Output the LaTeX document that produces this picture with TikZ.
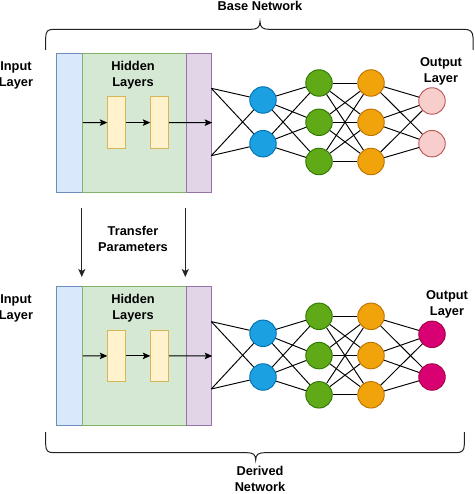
\documentclass[tikz,border=0pt]{standalone}
\usepackage{fontspec}
\setmainfont{Liberation Sans}
\usetikzlibrary{arrows.meta}
\definecolor{inF}{HTML}{DAE8FC}\definecolor{inD}{HTML}{6C8EBF}
\definecolor{hiF}{HTML}{D5E8D4}\definecolor{hiD}{HTML}{82B366}
\definecolor{puF}{HTML}{E1D5E7}\definecolor{puD}{HTML}{9673A6}
\definecolor{yeF}{HTML}{FFF2CC}\definecolor{yeD}{HTML}{D6B656}
\definecolor{blF}{HTML}{1BA1E2}\definecolor{blD}{HTML}{006EAF}
\definecolor{grF}{HTML}{60A917}\definecolor{grD}{HTML}{2D7600}
\definecolor{orF}{HTML}{F0A30A}\definecolor{orD}{HTML}{BD7000}
\definecolor{pkF}{HTML}{F8CECC}\definecolor{pkD}{HTML}{B85450}
\definecolor{mgF}{HTML}{D80073}\definecolor{mgD}{HTML}{A50040}
\definecolor{ink}{HTML}{222222}
\tikzset{
  box/.style={draw=#1D, fill=#1F, line width=0.9pt, anchor=north west, inner sep=0pt, minimum height=139pt},
  ybox/.style={draw=yeD, fill=yeF, line width=0.9pt, anchor=north west, inner sep=0pt, minimum width=18pt, minimum height=51.7pt},
  neuron/.style={circle, draw=#1D, fill=#1F, line width=0.9pt, inner sep=0pt, minimum size=26.5pt},
  lbl/.style={font=\bfseries\fontsize{12.8}{16}\selectfont, align=center, text=black, inner sep=0pt},
  conn/.style={draw=black, line width=0.95pt},
  arr/.style={draw=black, line width=0.95pt, -{Stealth[length=7.5pt,width=6.5pt,inset=1.5pt]}},
  tarr/.style={draw=ink, line width=1pt, -{Stealth[length=8pt,width=7pt,inset=2pt]}},
  bracestyle/.style={draw=ink, line width=1pt}
}
\begin{document}
\begin{tikzpicture}[x=1pt,y=-1pt]
\useasboundingbox[fill=white] (0,0) rectangle (474,494);

\foreach \p/\dy/\oc/\ox in {A/0/pk/441, B/233.3/mg/447}{
  \begin{scope}[yshift=-\dy pt]
  \node[box=in, minimum width=26.3pt] (in\p) at (55.7,52.7) {};
  \node[box=hi, minimum width=103.7pt] (hi\p) at (82,52.7) {};
  \node[box=pu, minimum width=25.6pt] (pu\p) at (185.7,52.7) {};
  \node[ybox] (ya\p) at (107.3,96.3) {};
  \node[ybox] (yb\p) at (150.3,96.3) {};
  \draw[arr] (in\p.east) -- (ya\p.west);
  \draw[arr] (ya\p.east) -- (yb\p.west);
  \draw[arr] (yb\p.east) -- (pu\p.east);
  \node[lbl] (il\p) at (16,75) {Input\\Layer};
  \node[lbl] (hl\p) at (133,75) {Hidden\\Layers};
  \node[lbl] (ol\p) at (\ox,71) {Output\\Layer};
  \coordinate (pt\p) at (211.3,88.3);
  \coordinate (pb\p) at (211.3,155.7);
  \node[neuron=bl] (b1\p) at (263,100) {};
  \node[neuron=bl] (b2\p) at (263,143.7) {};
  \node[neuron=gr] (g1\p) at (319,83) {};
  \node[neuron=gr] (g2\p) at (319,122.3) {};
  \node[neuron=gr] (g3\p) at (319,161.5) {};
  \node[neuron=or] (o1\p) at (371,83) {};
  \node[neuron=or] (o2\p) at (371,122.3) {};
  \node[neuron=or] (o3\p) at (371,161.5) {};
  \node[neuron=\oc] (q1\p) at (432,101) {};
  \node[neuron=\oc] (q2\p) at (432,143.7) {};
  \foreach \i in {1,2}{
    \draw[conn] (pt\p) -- (b\i\p);
    \draw[conn] (pb\p) -- (b\i\p);
    \foreach \j in {1,2,3}{
      \draw[conn] (b\i\p) -- (g\j\p);
      \draw[conn] (o\j\p) -- (q\i\p);
    }
  }
  \foreach \i in {1,2,3}{
    \foreach \j in {1,2,3}{
      \draw[conn] (g\i\p) -- (o\j\p);
    }
  }
  \end{scope}
}

% transfer arrows
\coordinate (t1s) at (81.8,208.3);
\coordinate (t1e) at (81.8,277);
\coordinate (t2s) at (185.3,208.3);
\coordinate (t2e) at (185.3,277);
\draw[tarr] (t1s) -- (t1e);
\draw[tarr] (t2s) -- (t2e);
\node[lbl] (tp) at (133,239.3) {Transfer\\Parameters};

% top brace
\draw[bracestyle] (45.7,50) -- (45.7,37.5) .. controls (45.7,31) and (48,29.3) .. (54,29.3)
  -- (251,29.3) .. controls (257,29.3) and (260,27.5) .. (260,21.5)
  .. controls (260,27.5) and (263,29.3) .. (269,29.3)
  -- (464,29.3) .. controls (470,29.3) and (473,31.5) .. (473,37.5) -- (473,50);
\node[lbl] (bn) at (260,5.5) {Base Network};

% bottom brace
\draw[bracestyle] (45.7,432) -- (45.7,444.5) .. controls (45.7,451) and (48,452.7) .. (54,452.7)
  -- (247,452.7) .. controls (253,452.7) and (255.7,454.5) .. (255.7,460)
  .. controls (255.7,454.5) and (258.5,452.7) .. (264.5,452.7)
  -- (456,452.7) .. controls (462,452.7) and (464.3,450.5) .. (464.3,444.5) -- (464.3,432);
\node[lbl] (dn) at (260,478.8) {Derived\\Network};
\end{tikzpicture}
\end{document}
